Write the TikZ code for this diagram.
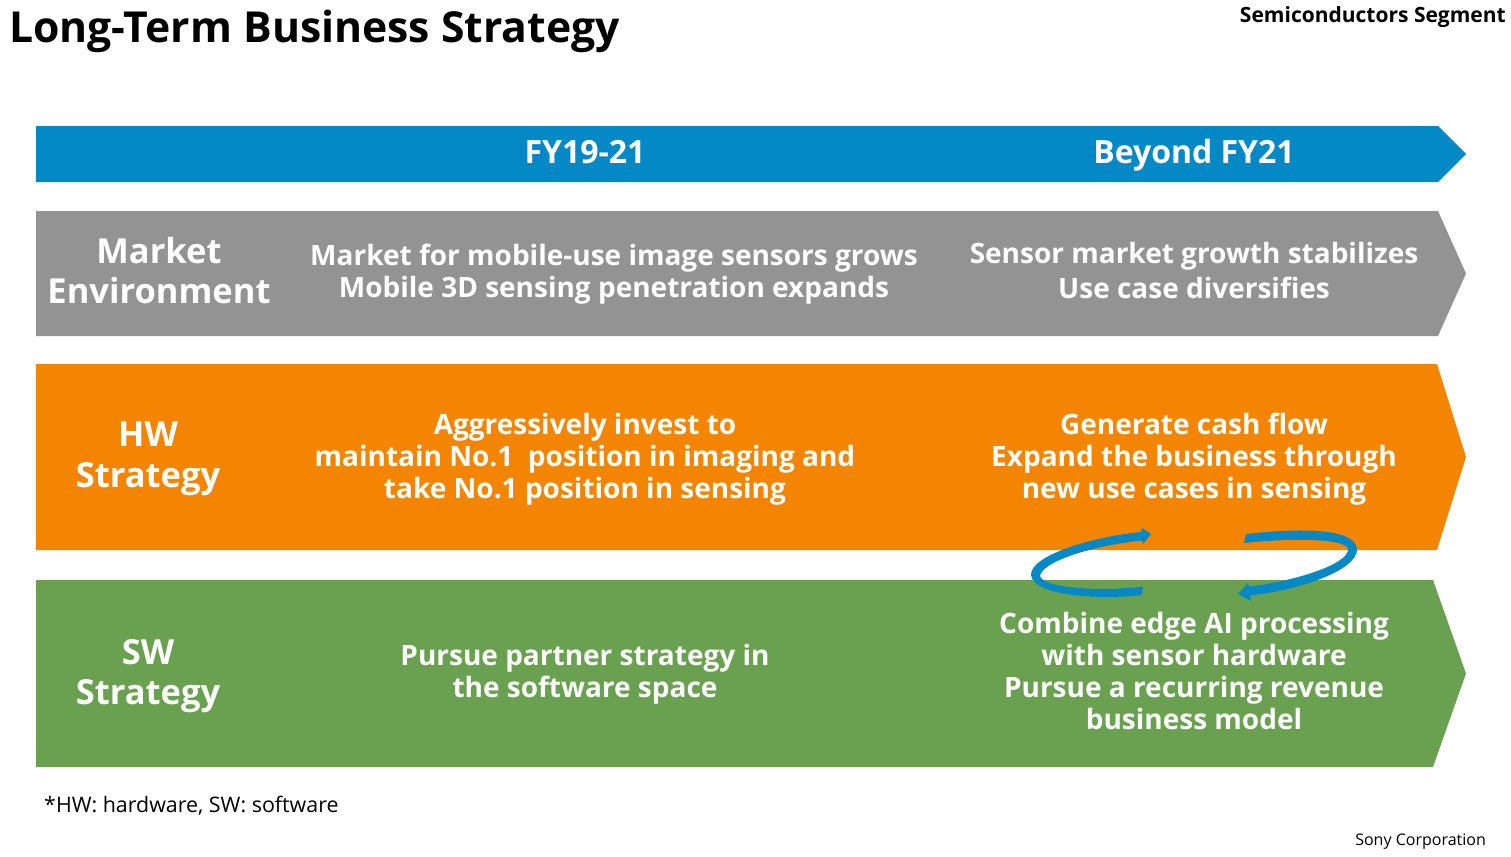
\documentclass[tikz,border=0pt]{standalone}
\usepackage{fontspec}
\setmainfont{Open Sans}
\definecolor{barblue}{HTML}{0588C6}
\definecolor{bargray}{HTML}{939393}
\definecolor{barorange}{HTML}{F38503}
\definecolor{bargreen}{HTML}{6AA151}
\tikzset{
  lbl/.style={text=white,font=\bfseries\fontsize{28}{32}\selectfont,align=center,inner sep=0pt},
  big/.style={text=white,font=\bfseries\fontsize{34.5}{40.5}\selectfont,align=center,inner sep=0pt},
  head/.style={text=white,font=\bfseries\fontsize{32}{38}\selectfont,align=center,inner sep=0pt,anchor=base},
  dark/.style={text=black,inner sep=0pt}
}
\begin{document}
\begin{tikzpicture}[x=1pt,y=-1pt]
\useasboundingbox (0,0) rectangle (1511,856);
\fill[barblue] (36,126) -- (1438,126) -- (1466,154) -- (1438,182) -- (36,182) -- cycle;
\fill[bargray] (36,211) -- (1438,211) -- (1466,273.5) -- (1438,336) -- (36,336) -- cycle;
\fill[barorange] (36,364) -- (1437,364) -- (1466,457) -- (1437,550) -- (36,550) -- cycle;
\fill[bargreen] (36,580) -- (1433,580) -- (1466,673.5) -- (1433,767) -- (36,767) -- cycle;

\fill[barblue] (1143,586.5) .. controls (1100,592) and (1043,588) .. (1040,576)
  .. controls (1042,562) and (1090,546) .. (1142,540.5) -- (1143,544) -- (1151,534) -- (1142,528)
  -- (1141,532) .. controls (1090,537) and (1030,556) .. (1031,575)
  .. controls (1033,596) and (1100,600) .. (1142,595) -- cycle;
\fill[barblue] (1244,543) .. controls (1290,538) and (1345,538) .. (1348,549)
  .. controls (1349,565) and (1290,582) .. (1249,586.5) -- (1248,583) -- (1238,594) -- (1251,601)
  -- (1250,595.5) .. controls (1300,590) and (1358,570) .. (1357,549)
  .. controls (1355,526) and (1290,529) .. (1246,534) -- cycle;

\node[dark,anchor=west,font=\bfseries\fontsize{42.7}{48}\selectfont] (title) at (9,31) {Long-Term Business Strategy};
\node[dark,anchor=east,font=\bfseries\fontsize{21}{25}\selectfont] (seg) at (1506,17) {Semiconductors Segment};
\node[head] (fy1) at (585,163) {FY19-21};
\node[head] (fy2) at (1194,163) {Beyond FY21};
\node[big] (market) at (159,270.5) {Market\\Environment};
\node[lbl] (m1) at (614,274) {Market for mobile-use image sensors grows\\Mobile 3D sensing penetration expands};
\node[lbl,font=\bfseries\fontsize{28}{35}\selectfont] (m2) at (1194,270) {Sensor market growth stabilizes\\Use case diversifies};
\node[big] (hw) at (148,459) {HW\\Strategy};
\node[lbl] (h1) at (585,459) {Aggressively invest to\\maintain No.1\ \ position in imaging and\\take No.1 position in sensing};
\node[lbl] (h2) at (1194,459) {Generate cash flow\\Expand the business through\\new use cases in sensing};
\node[big] (sw) at (148,676) {SW\\Strategy};
\node[lbl] (s1) at (585,674) {Pursue partner strategy in\\the software space};
\node[lbl] (s2) at (1194,671) {Combine edge AI processing\\with sensor hardware\\Pursue a recurring revenue\\business model};
\node[dark,anchor=west,font=\fontsize{21.4}{25}\selectfont] (note) at (44,806) {*HW: hardware, SW: software};
\node[dark,anchor=east,font=\fontsize{16}{19}\selectfont] (sony) at (1486,842) {Sony Corporation};
\end{tikzpicture}
\end{document}
